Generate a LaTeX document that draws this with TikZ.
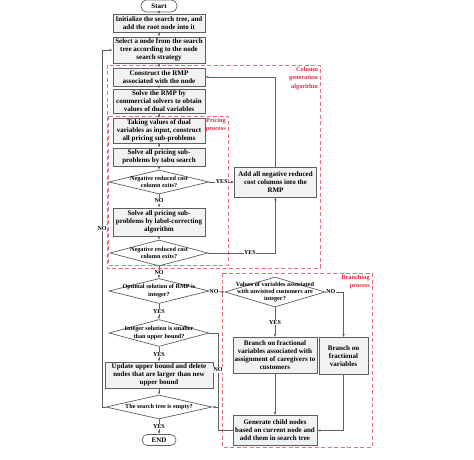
\documentclass[tikz,border=0pt]{standalone}
\usepackage{fontspec}
\setmainfont{Liberation Serif}
\usetikzlibrary{shapes.geometric,arrows.meta}
\definecolor{lncol}{HTML}{5F5F5F}
\definecolor{bxcol}{HTML}{F2F2F2}
\definecolor{rgcol}{HTML}{E8707E}
\definecolor{rtcol}{HTML}{E0283C}
\begin{document}
\begin{tikzpicture}[x=1pt,y=-1pt,
  box/.style={draw=lncol, fill=bxcol, line width=0.7pt, minimum width=92pt, align=center, inner sep=1pt, font=\bfseries\fontsize{7}{8}\selectfont},
  term/.style={draw=lncol, fill=white, rounded corners=5.5pt, line width=0.7pt, minimum width=36pt, minimum height=12pt, inner sep=0pt, font=\bfseries\fontsize{7}{8}\selectfont},
  dia/.style={diamond, draw=lncol, fill=white, line width=0.7pt, inner sep=0pt},
  dtxt/.style={align=center, inner sep=0pt, font=\bfseries\fontsize{6.2}{7.3}\selectfont},
  lab/.style={fill=white, inner sep=0.6pt, font=\bfseries\fontsize{6}{7}\selectfont},
  arr/.style={draw=lncol, line width=0.7pt, -{Latex[length=3pt,width=2.6pt]}},
  conn/.style={draw=lncol, line width=0.7pt},
  region/.style={draw=rgcol, dash pattern=on 4pt off 2.5pt, line width=0.8pt},
  rlab/.style={text=rtcol, align=right, font=\bfseries\fontsize{6.3}{8.3}\selectfont, inner sep=1pt}
]
\useasboundingbox (0,0) rectangle (474,460);

% regions
\draw[region] (107,65) rectangle (320,268);
\draw[region] (108,116) rectangle (228,265);
\draw[region] (222,273) rectangle (372,447);
\node[rlab, anchor=north east] (cgl) at (319,66) {Column\\generation\\algorithm};
\node[rlab, anchor=north east] (ppl) at (227,117) {Pricing\\process};
\node[rlab, anchor=north east] (bpl) at (371,274) {Branching\\process};

% main column
\node[term] (start) at (159,6) {Start};
\node[box, minimum height=18pt] (init) at (159,23.5) {Initialize the search tree, and\\add the root node into it};
\node[box, minimum height=26pt] (select) at (159,50) {Select a node from the search\\tree according to the node\\search strategy};
\node[box, minimum height=18pt] (rmp) at (159,77) {Construct the RMP\\associated with the node};
\node[box, minimum height=24pt] (solve) at (159,101) {Solve the RMP by\\commercial solvers to obtain\\values of dual variables};
\node[box, minimum height=25pt] (taking) at (159,131) {Taking values of dual\\variables as input, construct\\all pricing sub-problems};
\node[box, minimum height=18pt] (tabu) at (159,157) {Solve all pricing sub-\\problems by tabu search};
\node[dia, minimum width=100pt, minimum height=24pt] (d1) at (159,182) {};
\node[dtxt] (d1t) at (d1) {Negative reduced cost\\column exits?};
\node[box, minimum height=28pt] (lc) at (159,222) {Solve all pricing sub-\\problems by label-correcting\\algorithm};
\node[dia, minimum width=98pt, minimum height=26pt] (d2) at (159,253) {};
\node[dtxt] (d2t) at (d2) {Negative reduced cost\\column exits?};
\node[box, minimum width=82pt, minimum height=30pt] (add) at (275.5,182) {Add all negative reduced\\cost columns into the\\RMP};
\node[dia, minimum width=100pt, minimum height=25pt] (d3) at (159,291) {};
\node[dtxt] (d3t) at (d3) {Optimal solution of RMP is\\integer?};
\node[dia, minimum width=100pt, minimum height=30pt] (d4) at (275,292) {};
\node[dtxt] (d4t) at (d4) {Values of variables associated\\with unvisited customers are\\integer?};
\node[dia, minimum width=100pt, minimum height=27pt] (d5) at (159,333) {};
\node[dtxt] (d5t) at (d5) {Integer solution is smaller\\than upper bound?};
\node[box, minimum width=108pt, minimum height=26pt] (upd) at (159,375) {Update upper bound and delete\\nodes that are larger than new\\upper bound};
\node[dia, minimum width=106pt, minimum height=24pt] (d6) at (159,407) {};
\node[dtxt] (d6t) at (d6) {The search tree is empty?};
\node[term, minimum width=34pt, minimum height=11pt] (end) at (159,440) {END};
\node[box, minimum width=84pt, minimum height=36pt] (bfa) at (275,355.5) {Branch on fractional\\variables associated with\\assignment of caregivers to\\customers};
\node[box, minimum width=49pt, minimum height=37pt] (bf) at (343.5,356) {Branch on\\fractional\\variables};
\node[box, minimum width=84pt, minimum height=30pt] (gen) at (275,430.5) {Generate child nodes\\based on current node and\\add them in search tree};

\coordinate (jx) at (218,0);
\coordinate (lx) at (102,0);

% connectors
\draw[arr] (start) -- (init);
\draw[arr] (init) -- (select);
\draw[arr] (select) -- (rmp);
\draw[arr] (rmp) -- (solve);
\draw[arr] (solve) -- (taking);
\draw[arr] (taking) -- (tabu);
\draw[arr] (tabu) -- (d1);
\draw[arr] (d1) -- node[lab]{NO} (lc);
\draw[arr] (lc) -- (d2);
\draw[arr] (d2) -- node[lab]{NO} (d3);
\draw[arr] (d3) -- node[lab]{YES} (d5);
\draw[arr] (d5) -- node[lab]{YES} (upd);
\draw[arr] (upd) -- (d6);
\draw[arr] (d6) -- node[lab]{YES} (end);
\draw[arr] (d1.east) -- node[lab]{YES} (d1.east -| add.west);
\draw[arr] (d2.east) -- node[lab, pos=0.62]{YES} (d2.east -| add.south) -- (add.south);
\draw[arr] (add.north) |- (rmp.east);
\draw[arr] (d3.east) -- node[lab, pos=0.3]{NO} (d4.west);
\draw[arr] (d4) -- node[lab]{YES} (bfa);
\draw[arr] (d4.east) -- node[lab, pos=0.3]{NO} (d4.east -| bf.north) -- (bf.north);
\draw[arr] (bf.south) |- (gen.east);
\draw[arr] (bfa) -- (gen);
\draw[arr] (d5.east) -- (d5.east -| jx) -- node[lab]{NO} (jx |- d6.east) -- (d6.east);
\draw[conn] (gen.west) -| (jx |- d6.east);
\draw[arr] (d6.west) -- (d6.west -| lx) -- node[lab]{NO} (lx |- select.west) -- (select.west);
\end{tikzpicture}
\end{document}
